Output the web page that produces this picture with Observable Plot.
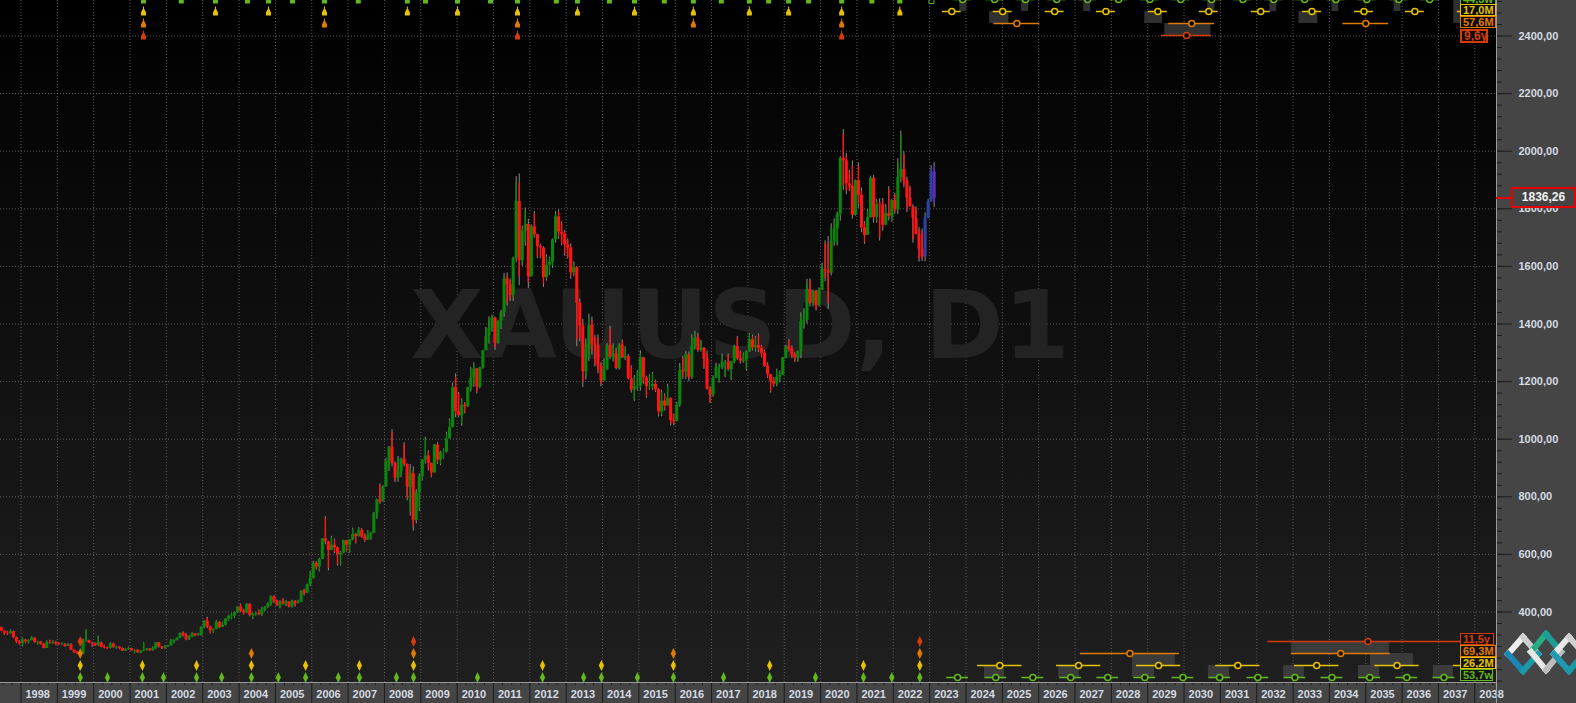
<!DOCTYPE html>
<html><head><meta charset="utf-8">
<script src="https://cdn.jsdelivr.net/npm/d3@7"></script>
<script src="https://cdn.jsdelivr.net/npm/@observablehq/plot@0.6"></script>
<style>
html,body{margin:0;padding:0;background:#454545;}
#chart{position:relative;width:1576px;height:703px;overflow:hidden;background:#454545;font-family:"Liberation Sans",Arial,sans-serif;}
#plotbg{position:absolute;left:0;top:0;width:1496px;height:682px;background:linear-gradient(to bottom,#000 0%,#0e0e0e 45%,#1f1f1f 100%);}
#chart svg.layer{position:absolute;left:0;top:0;}
.edge{position:absolute;background:#9a9a9a;}
.clabel{position:absolute;box-sizing:border-box;height:12px;font:bold 11px "Liberation Sans",Arial,sans-serif;line-height:10px;padding-left:2px;background:#0b0b0b;border:1px solid;white-space:nowrap;}
#price{position:absolute;box-sizing:border-box;left:1511px;width:65px;height:21px;border:2px solid #e60000;background:#444;color:#f2f2f2;font:bold 12px "Liberation Sans",Arial,sans-serif;line-height:17px;text-align:center;}
</style></head><body><div id="chart"><div id="plotbg"></div></div>
<script>
// ---------- DATA ----------
const ticker = "XAUUSD, D1";
const startYear = 1997, startMonth = 6, firstOpen = 345;
const lastPrice = 1836.26;
const liveFrom = 2022.83;

// monthly closes (Jun 1997 .. Feb 2023)
const closes = [
 334,326,325,332,311,296,290,
 303,297,301,309,294,296,288,273,294,292,294,288,
 287,287,280,286,268,261,255,254,299,300,292,290,
 283,293,277,274,273,289,276,278,273,264,269,273,
 265,267,258,264,267,271,265,273,293,279,275,279,
 282,297,302,309,326,318,304,312,324,318,318,347,
 368,348,335,339,364,346,354,375,385,386,398,417,
 403,396,427,388,394,395,391,407,416,429,453,438,
 422,435,428,435,418,437,430,433,473,465,495,517,
 569,556,582,654,643,614,632,623,599,604,648,632,
 650,669,662,683,660,650,666,673,743,789,783,834,
 923,972,916,865,886,930,913,833,880,718,814,870,
 927,942,916,883,980,927,955,955,1001,1040,1179,1096,
 1081,1118,1113,1179,1212,1244,1181,1248,1307,1357,1386,1421,
 1333,1410,1439,1556,1536,1500,1628,1826,1620,1722,1746,1564,
 1737,1710,1669,1664,1561,1604,1614,1692,1772,1719,1712,1675,
 1664,1578,1596,1472,1393,1234,1313,1396,1327,1323,1253,1202,
 1240,1326,1284,1296,1246,1327,1282,1287,1210,1171,1182,1184,
 1283,1213,1183,1183,1190,1172,1095,1132,1115,1142,1065,1061,
 1118,1238,1233,1293,1215,1322,1351,1309,1316,1277,1173,1152,
 1211,1249,1249,1268,1268,1242,1269,1322,1280,1271,1275,1303,
 1345,1318,1325,1316,1298,1253,1224,1201,1192,1215,1222,1282,
 1321,1313,1292,1283,1305,1409,1413,1520,1472,1513,1464,1517,
 1589,1585,1577,1686,1730,1781,1975,1967,1886,1879,1777,1898,
 1847,1734,1708,1769,1906,1770,1814,1813,1743,1783,1774,1829,
 1796,1909,1937,1897,1837,1807,1766,1711,1660,1633,1768,1824,
 1928,1836
];
const highs = [
 348,334,333,338,334,313,300,
 310,305,303,315,311,298,298,290,300,302,300,298,
 293,292,290,290,290,267,262,263,306,338,302,295,
 292,316,296,285,278,294,292,281,279,275,272,278,
 274,268,270,266,293,273,273,279,294,294,279,283,
 284,305,303,311,327,331,326,318,328,325,326,349,
 370,382,351,341,371,367,365,377,389,395,400,418,
 428,410,429,428,395,399,407,415,419,432,456,456,
 442,439,446,439,432,441,440,441,473,479,497,541,
 576,575,587,655,731,645,663,653,626,610,649,645,
 652,691,673,693,690,672,683,677,746,792,845,839,
 933,975,1033,921,940,934,988,914,912,904,825,880,
 929,1007,960,917,982,989,958,966,1024,1070,1195,1227,
 1162,1140,1127,1180,1249,1265,1245,1250,1308,1388,1425,1431,
 1424,1411,1447,1576,1577,1556,1632,1912,1921,1740,1803,1764,
 1744,1791,1711,1677,1668,1640,1632,1695,1790,1796,1755,1725,
 1695,1678,1616,1597,1487,1416,1348,1434,1424,1361,1362,1267,
 1280,1332,1392,1331,1315,1332,1345,1321,1294,1255,1221,1238,
 1307,1284,1219,1224,1232,1205,1175,1170,1157,1191,1143,1088,
 1128,1263,1287,1304,1303,1362,1375,1367,1343,1318,1306,1182,
 1220,1264,1261,1295,1274,1296,1270,1326,1357,1306,1299,1306,
 1366,1361,1356,1365,1326,1309,1266,1221,1214,1243,1237,1284,
 1326,1346,1324,1300,1306,1439,1453,1555,1557,1517,1516,1525,
 1611,1689,1704,1748,1765,1789,1981,2075,1992,1933,1966,1900,
 1959,1872,1755,1798,1913,1916,1832,1834,1836,1814,1877,1831,
 1853,1974,2070,1998,1910,1879,1814,1807,1735,1730,1786,1833,
 1949,1960
];
const lows = [
 332,318,318,321,308,290,284,
 279,289,289,300,292,285,285,272,273,288,289,283,
 283,285,278,280,266,256,252,252,253,295,290,278,
 280,281,276,272,270,272,275,271,269,263,263,268,
 263,255,257,255,263,265,264,264,270,275,270,271,
 277,282,290,300,307,313,300,301,311,314,316,316,
 342,342,323,326,339,343,346,352,367,373,377,396,
 398,389,394,383,374,386,387,385,402,413,420,430,
 420,411,424,419,414,414,417,428,433,456,466,488,
 515,545,539,584,633,543,613,603,560,560,603,608,
 604,648,636,660,655,642,648,649,673,722,774,781,
 850,888,904,849,850,866,904,786,733,681,706,749,
 855,913,890,866,882,912,908,931,952,1003,1040,1075,
 1075,1045,1088,1110,1164,1180,1157,1175,1243,1316,1330,1371,
 1308,1330,1381,1423,1462,1478,1478,1612,1533,1600,1670,1523,
 1565,1698,1627,1626,1527,1549,1570,1593,1681,1694,1672,1636,
 1626,1555,1565,1321,1338,1180,1206,1270,1292,1251,1227,1182,
 1202,1241,1277,1268,1240,1240,1280,1273,1206,1160,1131,1167,
 1167,1191,1142,1170,1170,1162,1077,1078,1098,1136,1046,1047,
 1061,1111,1208,1208,1200,1208,1310,1302,1302,1242,1171,1124,
 1146,1211,1195,1241,1214,1236,1204,1262,1274,1261,1264,1236,
 1302,1307,1303,1301,1282,1250,1211,1160,1180,1182,1196,1221,
 1279,1303,1281,1266,1267,1280,1382,1400,1459,1459,1445,1459,
 1517,1547,1451,1567,1670,1671,1757,1863,1849,1860,1764,1775,
 1802,1717,1677,1721,1768,1750,1750,1688,1722,1746,1758,1753,
 1781,1780,1890,1872,1787,1805,1681,1709,1615,1617,1616,1765,
 1824,1804
];

// past cycle troughs (decimal years); levels 0 green, 1 yellow, 2 orange, 3 red
const topGreenMarks  = [2001.37,2002.41,2003.35,2004.23,2004.81,2005.47,2006.35,2007.28,2008.63,2009.13,2010.01,2010.92,2011.66,2012.73,2013.31,2014.19,2014.88,2015.70,2016.50,2017.27,2018.04,2018.57,2019.12,2019.67,2020.58,2021.41,2022.18];
const topYellowMarks = [2001.37,2003.35,2004.81,2006.35,2008.63,2010.01,2011.66,2013.31,2014.88,2016.50,2018.04,2019.12,2020.58,2022.18];
const topOrangeMarks = [2001.37,2006.35,2011.66,2016.50,2020.58];
const topRedMarks    = [2001.37,2011.66,2020.58];
const topPendingMarks = [2023.05];
const bottomGreenMarks  = [1999.63,2000.38,2001.34,2001.92,2002.83,2003.52,2004.34,2005.08,2005.83,2006.73,2007.31,2008.33,2008.80,2010.56,2012.35,2013.48,2013.97,2014.96,2015.95,2017.33,2018.60,2019.86,2021.18,2021.96,2022.73];
const bottomYellowMarks = [1999.63,2001.34,2002.83,2004.34,2005.83,2007.31,2008.80,2012.35,2013.97,2015.95,2018.60,2021.18,2022.73];
const bottomOrangeMarks = [1999.63,2004.34,2008.80,2015.95,2022.73];
const bottomRedMarks    = [1999.63,2008.80,2022.73];

// projected cycle centres and their half-spreads (years)
const topGreenProj  = [2023.91,2024.79,2025.64,2026.50,2027.35,2028.20,2029.06,2029.91,2030.76,2031.62,2032.47,2033.32,2034.18,2035.03,2035.91,2036.76];
const topYellowProj = [2023.61,2025.01,2026.44,2027.85,2029.28,2030.68,2032.11,2033.52,2034.95,2036.35,2037.78];
const topOrangeProj = [2025.40,2030.21,2035.00];
const topRedProj    = [2030.07];
const topSpread = [0.25,0.26,0.63,0.69];
const bottomGreenProj  = [2023.77,2024.82,2025.84,2026.88,2027.90,2028.92,2029.97,2030.98,2032.03,2033.05,2034.07,2035.11,2036.13,2037.15];
const bottomYellowProj = [2024.93,2027.10,2029.30,2031.48,2033.65,2035.86,2038.02];
const bottomOrangeProj = [2028.51,2034.31];
const bottomRedProj    = [2035.06];
const bottomSpread = [0.30,0.61,1.36,2.75];

// trough zones: [start, end, fromLevel, toLevel]
const topBoxes = [
 [2023.83,2024.02,0,1],[2025.53,2025.72,0,1],[2027.24,2027.43,0,1],[2030.65,2030.85,0,1],
 [2032.36,2032.55,0,1],[2034.07,2034.26,0,1],[2035.78,2035.97,0,1],
 [2024.65,2025.18,1,2],[2028.92,2029.41,1,2],[2033.16,2033.68,1,2],[2037.42,2037.62,0,2],
 [2029.47,2030.74,2,3]
];
const bottomBoxes = [
 [2032.96,2035.65,3,2],
 [2028.58,2029.76,2,1],[2035.13,2036.31,2,1],
 [2024.51,2025.06,1,0],[2026.55,2027.12,1,0],[2028.58,2029.19,1,0],[2030.67,2031.25,1,0],
 [2032.74,2033.31,1,0],[2034.80,2035.38,1,0],[2036.86,2037.41,1,0]
];
const topLabels = ["44,3w","17,0M","57,6M","9,6y"];
const bottomLabels = ["53,7w","26,2M","69,3M","11,5y"];

const priceGrid = [400,600,800,1000,1200,1400,1600,1800,2000,2200,2400];
const years = d3.range(1998, 2039);

// ---------- STYLE / LAYOUT ----------
const W = 1576, H = 703, ML = 0, MR = 80, MT = 0, MB = 21;
const X = {domain: [1997.436, 2038.597], axis: null};
const Y = {domain: [155.2, 2523.3], axis: null};
const levelColors = ["#62b81c", "#e6c200", "#e07a00", "#d63c0a"];
const axisText = "#d4dbe3";
const font = "Liberation Sans, Arial, sans-serif";
const minorTicks = d3.range(160, 2521, 40);
const quarterTicks = d3.range(1997.5, 2038.6, 0.25);
const fmt = d => d.toFixed(2).replace(".", ",");

const candles = closes.map((close, i) => {
  const open = i === 0 ? firstOpen : closes[i - 1];
  const t = startYear + (startMonth - 1 + i + 0.5) / 12;
  const up = close >= open;
  const live = t >= liveFrom;
  return {t, open, close,
    high: Math.max(highs[i], open, close),
    low: Math.min(lows[i], open, close),
    color: live ? (up ? "#2b40a8" : "#5b2fb0") : (up ? "#0a870a" : "#ff1414")};
});

const tallDiamond = {draw(ctx, size) {
  const r = Math.sqrt(size / Math.PI);
  ctx.moveTo(0, -1.4 * r); ctx.lineTo(0.65 * r, 0); ctx.lineTo(0, 1.4 * r); ctx.lineTo(-0.65 * r, 0); ctx.closePath();
}};
const pagoda = {draw(ctx, size) {
  const u = Math.sqrt(size / Math.PI) / 4;
  const pts = [[-0.5,-5],[0.5,-5],[0.5,-2],[1.5,-2],[1.5,0],[2.5,0],[2.5,4],[-2.5,4],[-2.5,0],[-1.5,0],[-1.5,-2],[-0.5,-2]];
  pts.forEach(([x, y], i) => i ? ctx.lineTo(x * u, y * u) : ctx.moveTo(x * u, y * u));
  ctx.closePath();
}};

const baseStyle = {background: "transparent", overflow: "visible", maxWidth: "none"};

const main = Plot.plot({
  width: W, height: H, marginLeft: ML, marginRight: MR, marginTop: MT, marginBottom: MB,
  x: X, y: Y, style: {...baseStyle, color: "#1c1c1c"},
  marks: [
    Plot.ruleY(priceGrid, {stroke: "#5c5c5c", strokeDasharray: "1,2"}),
    Plot.ruleX(years, {stroke: "#5c5c5c", strokeDasharray: "1,2"}),
    Plot.text([ticker], {frameAnchor: "top-left", dx: 739.5, dy: 327, textAnchor: "middle", lineAnchor: "middle",
      fontSize: 95, fontWeight: "bold", fontFamily: "DejaVu Sans, sans-serif", fill: "#232323"}),
    Plot.ruleX(candles, {x: "t", y1: "low", y2: "high", stroke: "#8a8a8a", strokeWidth: 1}),
    Plot.ruleX(candles, {x: "t", y1: d => d.low + (d.high - d.low) * 0.08, y2: d => d.high - (d.high - d.low) * 0.08, stroke: "color", strokeWidth: 1.4}),
    Plot.ruleX(candles, {x: "t", y1: "open", y2: "close", stroke: "color", strokeWidth: 3.1}),
    Plot.axisY({anchor: "right", ticks: minorTicks, tickSize: 5, tickFormat: () => "", label: null}),
    Plot.axisY({anchor: "right", ticks: priceGrid, tickSize: 15, tickFormat: () => "", label: null}),
    Plot.text(priceGrid, {y: d => d, text: fmt, frameAnchor: "right", dx: 22, textAnchor: "start",
      fill: axisText, fontWeight: "bold", fontSize: 11, fontFamily: font}),
    Plot.axisX({ticks: years, tickSize: 21, tickFormat: () => "", label: null}),
    Plot.axisX({ticks: quarterTicks, tickSize: 3, tickFormat: () => "", label: null}),
    Plot.text(years, {x: d => d, text: d => String(d), frameAnchor: "bottom", dx: 4.5, dy: 15.5,
      textAnchor: "start", fill: axisText, fontWeight: "bold", fontSize: 11, fontFamily: font})
  ]
});
main.classList.add("layer");

function cycleLayer(range, proj, spreads, marks, boxes, boxFill, circleFill, pending) {
  const lines = proj.flatMap((arr, lv) => arr.map(c => ({c, lv})));
  const hist = marks.flatMap((arr, lv) => arr.map(t => ({t, lv})));
  return Plot.plot({
    width: W, height: H, marginLeft: ML, marginRight: MR, marginTop: MT, marginBottom: MB,
    x: X, y: {domain: [0, 3], range, axis: null}, style: baseStyle,
    marks: [
      Plot.rect(boxes, {x1: d => d[0], x2: d => d[1], y1: d => d[2], y2: d => d[3], fill: boxFill}),
      Plot.ruleY(lines, {x1: d => d.c - spreads[d.lv], x2: d => d.c + spreads[d.lv], y: "lv",
        stroke: d => levelColors[d.lv], strokeWidth: 1.5}),
      Plot.dot(lines, {x: "c", y: "lv", r: 3, fill: circleFill, stroke: d => levelColors[d.lv], strokeWidth: 1.5}),
      Plot.dot(hist, {x: "t", y: "lv", r: 4, symbol: range[0] < range[1] ? pagoda : tallDiamond,
        fill: d => levelColors[d.lv], stroke: "none"}),
      Plot.dot(pending, {x: d => d, y: 0, r: 4, symbol: pagoda, fill: "none", stroke: levelColors[0], strokeWidth: 1})
    ]
  });
}

const topLayer = cycleLayer([-1, 35], [topGreenProj, topYellowProj, topOrangeProj, topRedProj], topSpread,
  [topGreenMarks, topYellowMarks, topOrangeMarks, topRedMarks], topBoxes, "#303030", "#050505", topPendingMarks);
const bottomLayer = cycleLayer([677, 641], [bottomGreenProj, bottomYellowProj, bottomOrangeProj, bottomRedProj], bottomSpread,
  [bottomGreenMarks, bottomYellowMarks, bottomOrangeMarks, bottomRedMarks], bottomBoxes, "#3b3b3b", "#181818", []);
topLayer.classList.add("layer");
bottomLayer.classList.add("layer");

const chart = document.getElementById("chart");
chart.append(main, topLayer, bottomLayer);

function addDiv(cls, css, text) {
  const d = document.createElement("div");
  if (cls) d.className = cls;
  Object.assign(d.style, css);
  if (text != null) d.textContent = text;
  chart.append(d); return d;
}
// panel edges
addDiv("edge", {left: "0px", top: "682px", width: "1496px", height: "1px"});
addDiv("edge", {left: "1496px", top: "0px", width: "1px", height: "703px"});

// cycle period labels
const topTops = [-7, 4, 16, 29];
topLabels.forEach((t, i) => addDiv("clabel", {left: "1460px", top: topTops[i] + "px",
  width: i === 3 ? "28px" : "36px", height: i === 3 ? "14px" : "12px",
  borderWidth: i === 3 ? "2px" : "1px",
  color: levelColors[i], borderColor: levelColors[i], fontSize: i === 3 ? "12px" : "11px"}, t));
const botTops = [669, 657, 645, 633];
bottomLabels.forEach((t, i) => addDiv("clabel", {left: "1460px", top: botTops[i] + "px",
  width: i === 0 ? "33px" : (i === 3 ? "34px" : "36px"),
  color: levelColors[i], borderColor: levelColors[i], background: "#141414"}, t));

// current price marker
const py = main.scale("y").apply(lastPrice);
addDiv("", {position: "absolute", left: "1496px", top: (py - 1) + "px", width: "15px", height: "2px", background: "#e60000"});
const pl = addDiv("", {top: (py - 10.5) + "px"}, fmt(lastPrice));
pl.id = "price";

// logo
const logo = document.createElementNS("http://www.w3.org/2000/svg", "svg");
logo.setAttribute("width", "76"); logo.setAttribute("height", "56");
Object.assign(logo.style, {position: "absolute", left: "1500px", top: "625px"});
const segs = [
  [8,29, 23,12, "#f0f0f0"], [23,12, 38,29, "#cfcfcf"], [8,29, 23,46, "#1b86b5"], [23,46, 38,29, "#1a9aa8"],
  [31,27, 46,9, "#25ad86"], [46,9, 61,27, "#1f9c96"], [31,27, 46,45, "#e6e6e6"], [46,45, 61,27, "#bdbdbd"],
  [54,29, 69,12, "#e8e8e8"], [54,29, 69,46, "#1e9bb0"], [69,12, 84,29, "#cfcfcf"], [69,46, 84,29, "#1a9aa8"]
];
logo.innerHTML = segs.map(([x1,y1,x2,y2,c]) =>
  `<line x1="${x1}" y1="${y1}" x2="${x2}" y2="${y2}" stroke="${c}" stroke-width="6" stroke-linecap="square"/>`).join("");
chart.append(logo);
</script></body></html>
